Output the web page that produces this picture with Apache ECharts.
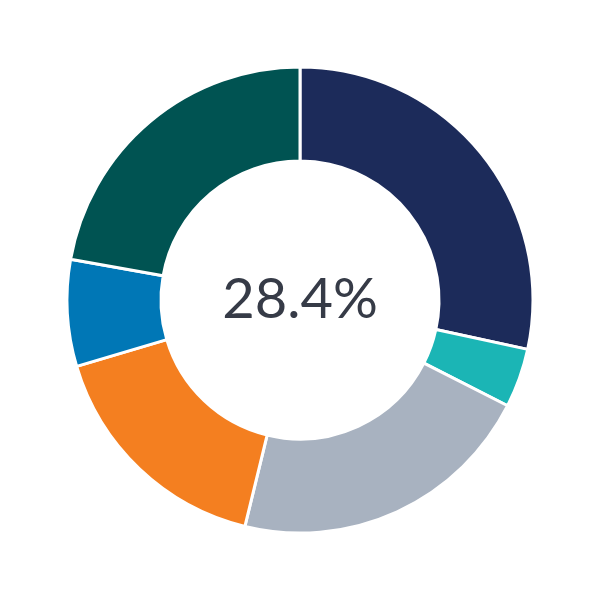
<!DOCTYPE html>
<html>
<head>
<meta charset="utf-8">
<script src="https://cdn.jsdelivr.net/npm/echarts@6/dist/echarts.min.js"></script>
<style>
  html, body { margin: 0; padding: 0; background: #fff; }
  #chart { width: 600px; height: 600px; }
</style>
</head>
<body>
<div id="chart"></div>
<script>
const names = ["A", "B", "C", "D", "E", "F"];
const values = [28.4, 4.1, 21.3, 16.6, 7.4, 22.2];
const colors = ["#1c2b5a", "#1bb5b5", "#a8b2c0", "#f47f20", "#0077b6", "#005352"];
const centerLabel = "28.4%";

let myChart = echarts.init(document.getElementById("chart"));
let option = {
  animation: false,
  graphic: [
    {
      type: "text",
      left: "center",
      top: "middle",
      style: {
        text: centerLabel,
        fontSize: 56,
        fontFamily: "Lato",
        fill: "#363b47",
      },
    },
  ],
  series: [
    {
      type: "pie",
      center: ["50%", "50%"],
      radius: [139, 233],
      startAngle: 90,
      clockwise: true,
      label: { show: false },
      labelLine: { show: false },
      itemStyle: {
        borderColor: "#fff",
        borderWidth: 3,
      },
      data: names.map((n, i) => ({
        name: n,
        value: values[i],
        itemStyle: { color: colors[i] },
      })),
    },
  ],
};
myChart.setOption(option);
</script>
</body>
</html>
